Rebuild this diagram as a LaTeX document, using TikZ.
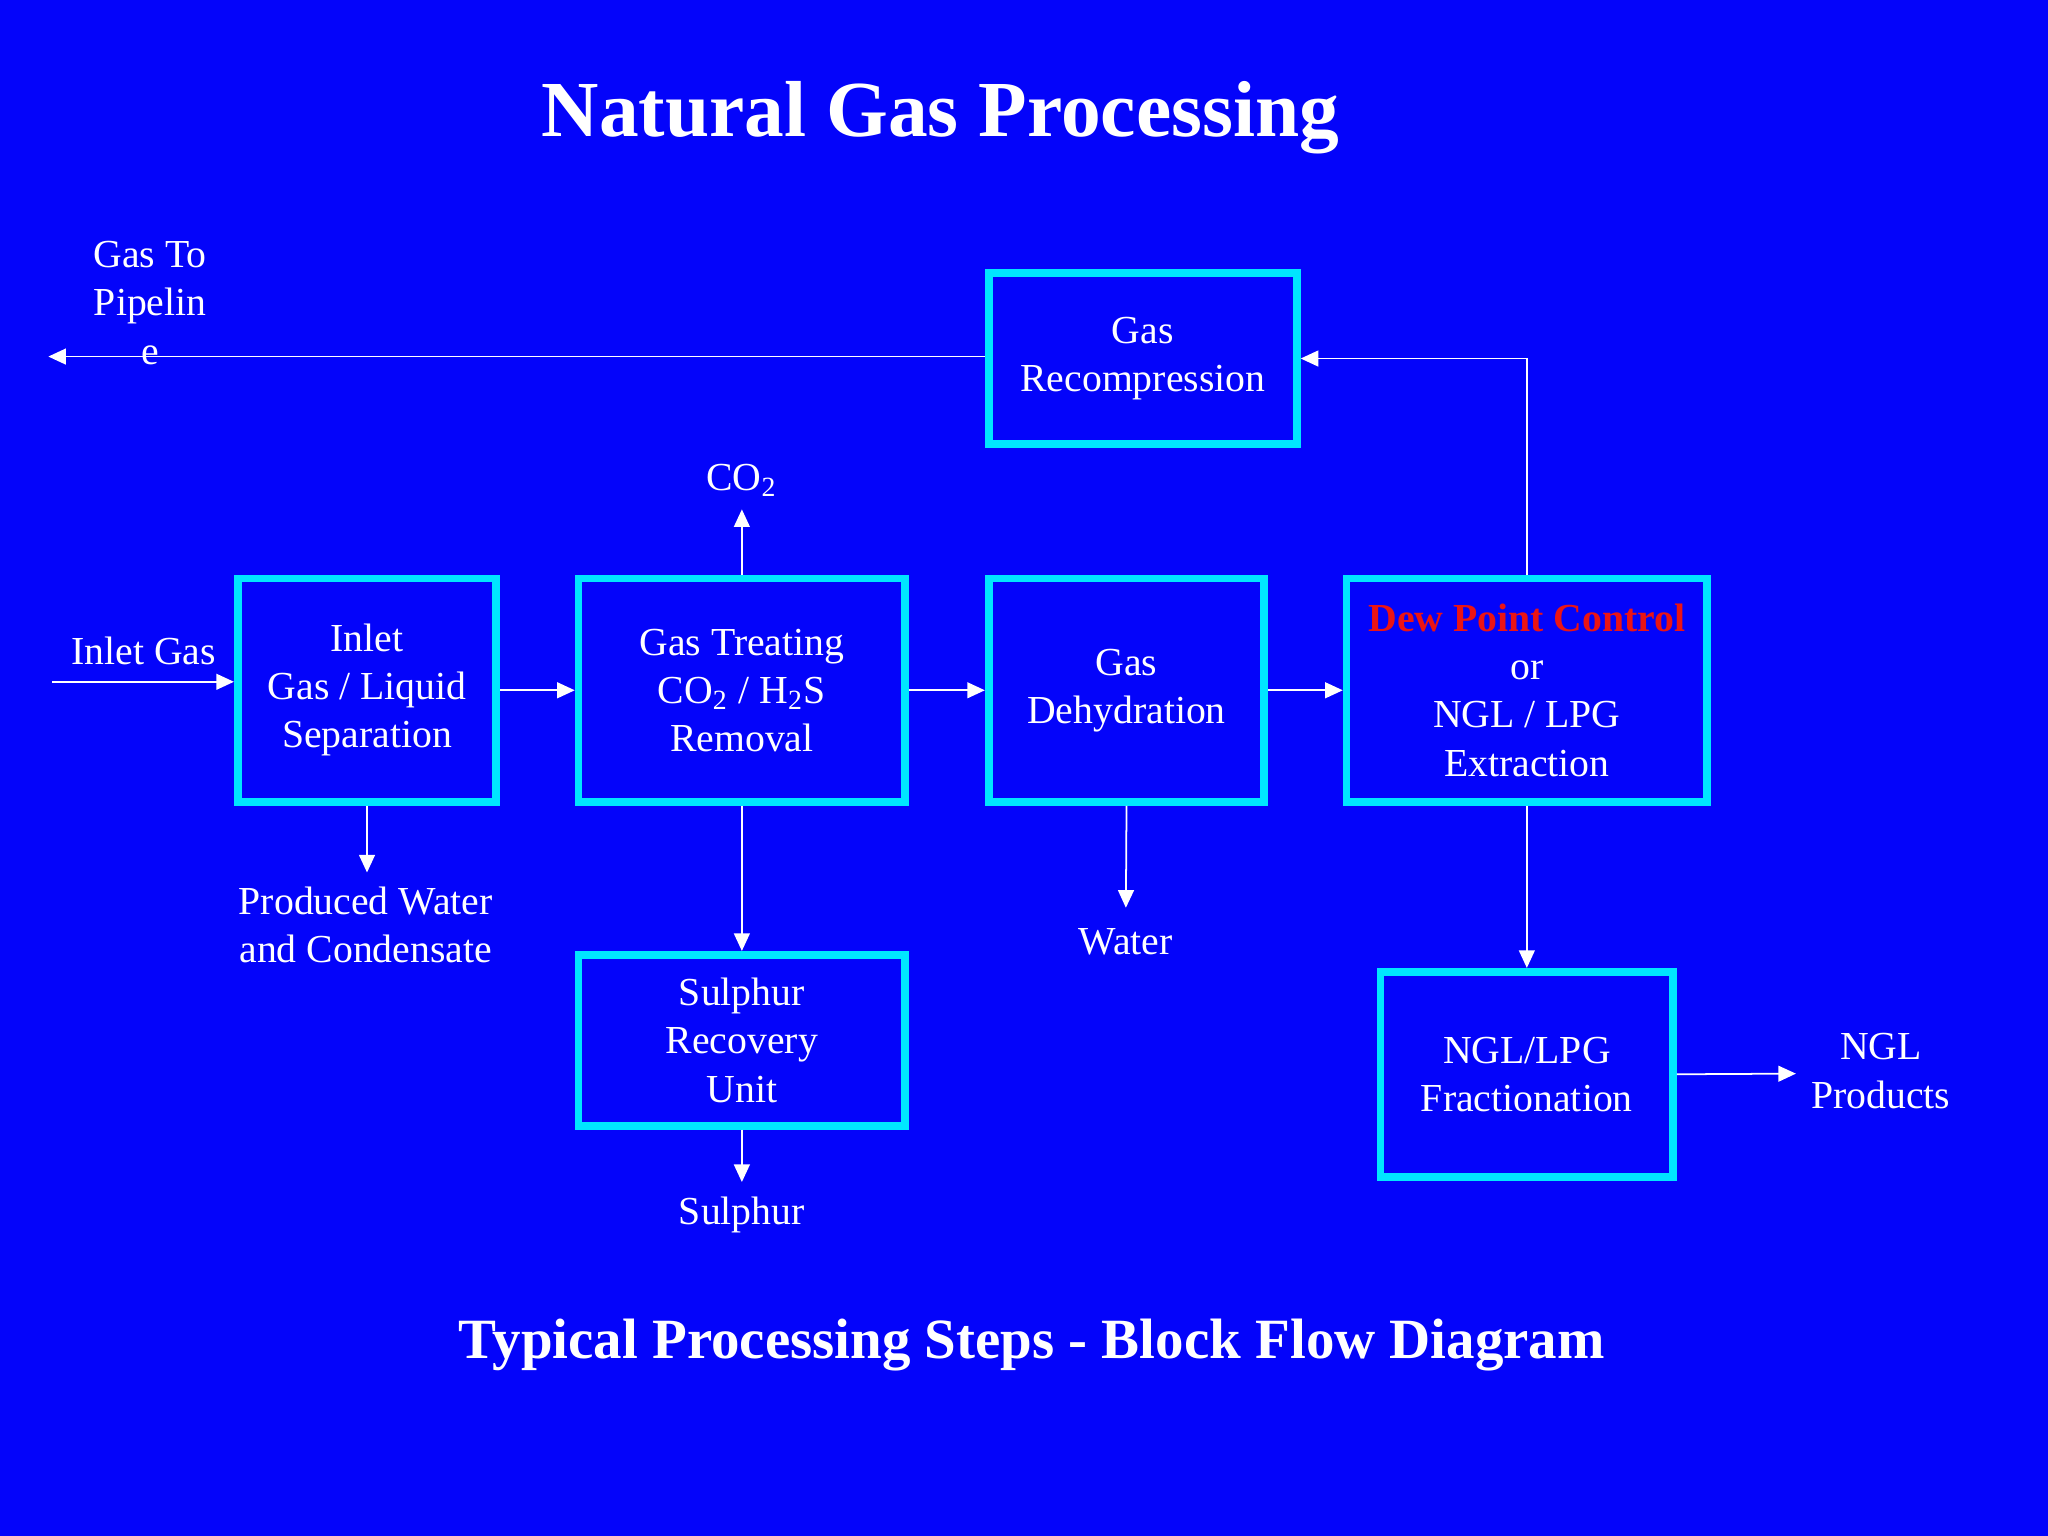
\documentclass[tikz,border=0pt]{standalone}
\usepackage{fontspec}
\setmainfont{Liberation Serif}
\usetikzlibrary{arrows.meta}
\definecolor{bg}{RGB}{4,4,250}
\definecolor{bx}{RGB}{0,230,255}
\definecolor{dp}{RGB}{235,20,20}
\begin{document}
\begin{tikzpicture}[x=0.01306cm,y=-0.01306cm,
  box/.style={draw=bx,line width=2.2pt,text=white,align=center,font=\fontsize{11.3}{13.7}\selectfont,inner sep=0pt},
  lbl/.style={text=white,align=center,font=\fontsize{11.3}{13.7}\selectfont},
  arr/.style={white,line width=0.5pt,-{Triangle[width=4.5pt,length=5pt]}}]
\fill[bg] (0,0) rectangle (1568,1176);
\useasboundingbox (0,0) rectangle (1568,1176);
\node[text=white,font=\bfseries\fontsize{22.6}{27}\selectfont] (title) at (720,90) {Natural Gas Processing};
\node[text=white,font=\bfseries\fontsize{16.2}{19}\selectfont] (sub) at (790,1030) {Typical Processing Steps - Block Flow Diagram};
\node[box,minimum width=3.08cm,minimum height=1.71cm] (rec) at (875,274.5) {Gas\\Recompression};
\node[box,minimum width=2.585cm,minimum height=2.233cm] (inl) at (281,528.5) {Inlet\\Gas / Liquid\\Separation};
\node[box,minimum width=3.265cm,minimum height=2.233cm] (trt) at (568,528.5) {Gas Treating\\CO\textsubscript{2} / H\textsubscript{2}S\\Removal};
\node[box,minimum width=2.756cm,minimum height=2.233cm] (deh) at (862.5,528.5) {Gas\\Dehydration};
\node[box,minimum width=3.605cm,minimum height=2.233cm] (dew) at (1169,528.5) {\textcolor{dp}{\textbf{Dew Point Control}}\\or\\NGL / LPG\\Extraction};
\node[box,minimum width=3.265cm,minimum height=1.71cm] (sul) at (568,796.5) {Sulphur\\Recovery\\Unit};
\node[box,minimum width=2.925cm,minimum height=2.05cm] (frc) at (1169,822.5) {NGL/LPG\\Fractionation};
\node[lbl] (pipe) at (115,232) {Gas To\\Pipelin\\e};
\node[lbl] (inlg) at (110,498) {Inlet Gas};
\node[lbl] (pw) at (280,708) {Produced Water\\and Condensate};
\node[lbl] (co2) at (568,368) {CO\textsubscript{2}};
\node[lbl] (sph) at (568,930) {Sulphur};
\node[lbl] (wat) at (862,721) {Water};
\node[lbl] (ngl) at (1440,820) {NGL\\Products};
\coordinate (p1) at (37,273);
\coordinate (p2) at (40,522);
\coordinate (p3) at (281,668);
\coordinate (p4) at (568,390);
\coordinate (p5) at (568,905);
\coordinate (p6) at (862,695);
\coordinate (p7) at (1375,822);
\draw[arr] (rec.west|-p1) -- (p1);
\draw[arr] (dew.north) |- (rec.east);
\draw[arr] (p2) -- (inl.west|-p2);
\draw[arr] (inl.east) -- (trt.west);
\draw[arr] (trt.east) -- (deh.west);
\draw[arr] (deh.east) -- (dew.west);
\draw[arr] (inl.south) -- (p3);
\draw[arr] (trt.north) -- (p4);
\draw[arr] (trt.south) -- (sul.north);
\draw[arr] (sul.south) -- (p5);
\draw[arr] (deh.south) -- (p6);
\draw[arr] (dew.south) -- (frc.north);
\draw[arr] (frc.east) -- (p7);
\end{tikzpicture}
\end{document}
